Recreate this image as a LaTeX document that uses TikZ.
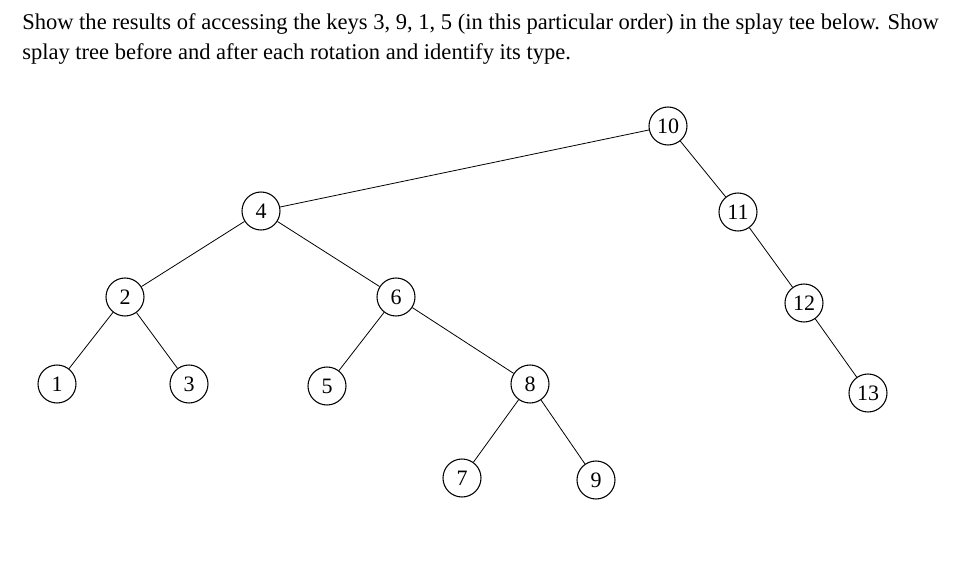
\documentclass[tikz,border=0pt]{standalone}
\usepackage{fontspec}
\setmainfont{Liberation Serif}
\begin{document}
\begin{tikzpicture}[x=0.75pt,y=-0.75pt,
  nd/.style={circle,draw,thick,minimum size=28.5pt,inner sep=0pt,font=\fontsize{16.5}{16.5}\selectfont},
  ed/.style={draw,line width=0.6pt}]
\useasboundingbox (0,0) rectangle (972,581);
\node[anchor=base west,font=\fontsize{16.9}{18}\selectfont,inner sep=0] (t1) at (22,30) {Show the results of accessing the keys 3, 9, 1, 5 (in this particular order) in the splay tee below. Show};
\node[anchor=base west,font=\fontsize{16.9}{18}\selectfont,inner sep=0] (t2) at (22,60) {splay tree before and after each rotation and identify its type.};
\node[nd] (n10) at (668,126) {10};
\node[nd] (n4) at (261,211) {4};
\node[nd] (n11) at (738,212) {11};
\node[nd] (n2) at (125,297) {2};
\node[nd] (n6) at (396,297) {6};
\node[nd] (n12) at (804,303) {12};
\node[nd] (n1) at (57,384) {1};
\node[nd] (n3) at (189,384) {3};
\node[nd] (n5) at (327,386) {5};
\node[nd] (n8) at (530,384) {8};
\node[nd] (n13) at (868,393) {13};
\node[nd] (n7) at (462,478) {7};
\node[nd] (n9) at (596,480) {9};
\foreach \a/\b in {n10/n4,n10/n11,n11/n12,n12/n13,n4/n2,n4/n6,n2/n1,n2/n3,n6/n5,n6/n8,n8/n7,n8/n9}
  \draw[ed] (\a) -- (\b);
\end{tikzpicture}
\end{document}
